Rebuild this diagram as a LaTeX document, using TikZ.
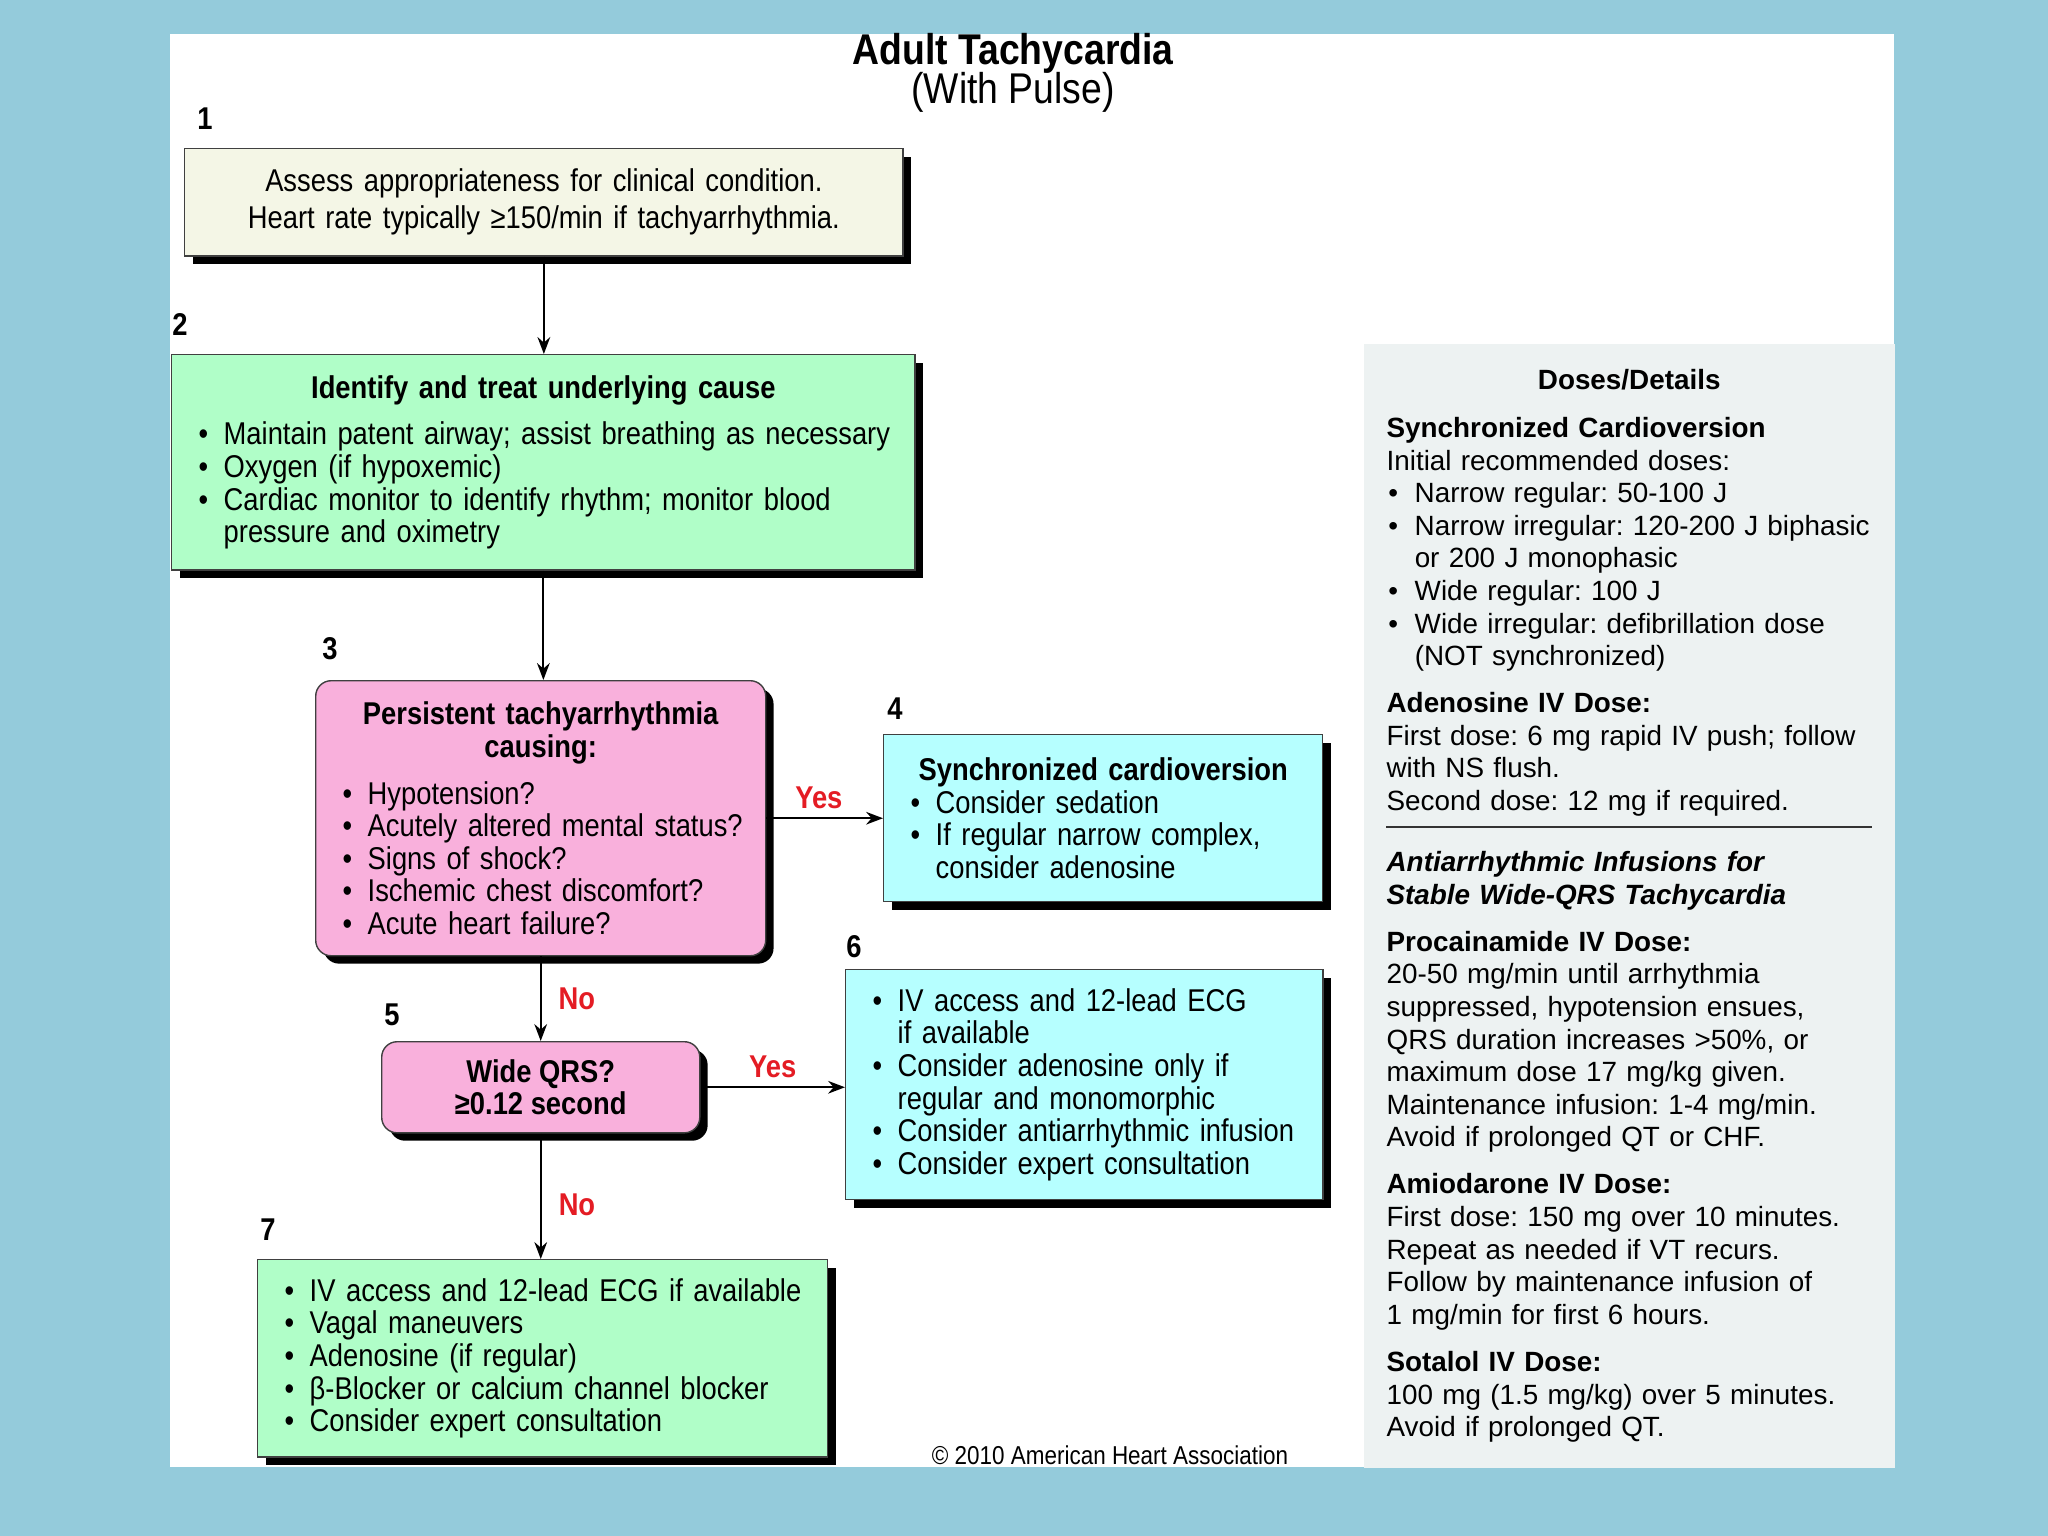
\documentclass[tikz,border=0pt]{standalone}
\usepackage{fontspec}
\setmainfont{Liberation Sans}
\newfontfamily\cf[FakeStretch=0.868]{Liberation Sans}
\usetikzlibrary{arrows.meta,shadows}
\definecolor{bgblue}{RGB}{148,203,219}
\definecolor{panelgray}{RGB}{237,242,242}
\definecolor{creamfill}{RGB}{244,246,230}
\definecolor{greenfill}{RGB}{176,254,200}
\definecolor{pinkfill}{RGB}{249,176,220}
\definecolor{cyanfill}{RGB}{182,255,255}
\definecolor{lblred}{RGB}{228,28,36}
\newcommand{\myfb}[1]{\mbox{\makebox[8.9pt][l]{\textbullet}#1}}
\newcommand{\myind}[1]{\mbox{\hspace*{8.9pt}#1}}
\newcommand{\mydb}[1]{\mbox{\makebox[10pt][l]{\hspace{0.6pt}\textbullet}#1}}
\newcommand{\mydi}[1]{\mbox{\hspace*{10pt}#1}}
\frenchspacing
\begin{document}
\begin{tikzpicture}[x=0.0125cm,y=-0.0125cm,
  box/.style={draw=black!75, line width=0.5pt,
    drop shadow={shadow xshift=2.8pt,shadow yshift=-2.8pt,fill=black,opacity=1},
    inner xsep=9.6pt, inner ysep=2pt, anchor=north west,
    font=\cf\fontsize{11.2}{11.6}\selectfont, align=left},
  rbox/.style={box, rounded corners=5.5pt},
  arr/.style={draw=black, line width=0.8pt, -{Stealth[length=6pt,width=4.5pt]}},
  lbl/.style={text=lblred, font=\cf\bfseries\fontsize{11.2}{12}\selectfont, inner sep=2pt},
  num/.style={font=\cf\bfseries\fontsize{11.2}{12}\selectfont, inner sep=0pt},
  dpanel/.style={fill=panelgray, inner xsep=8.2pt, inner ysep=2pt, anchor=north west,
    font=\fontsize{9.9}{11.6}\selectfont, align=left}
]
\useasboundingbox (0,0) rectangle (2048,1536);
\fill[bgblue] (0,0) rectangle (2048,1536);
\fill[white] (170,34) rectangle (1894,1467);

% Doses panel
\node[dpanel, minimum width=188.9pt, minimum height=399.8pt, text width=172.5pt] (doses) at (1363,343) {%
\makebox[\linewidth]{\bfseries Doses/Details}\\[5.5pt]
{\bfseries Synchronized Cardioversion}\\
Initial recommended doses:\\
\mydb{Narrow regular: 50-100 J}\\
\mydb{Narrow irregular: 120-200 J biphasic}\\
\mydi{or 200 J monophasic}\\
\mydb{Wide regular: 100 J}\\
\mydb{Wide irregular: defibrillation dose}\\
\mydi{(NOT synchronized)}\\[5.1pt]
{\bfseries Adenosine IV Dose:}\\
\mbox{First dose: 6 mg rapid IV push; follow}\\
with NS flush.\\
Second dose: 12 mg if required.\\[10.1pt]
{\bfseries\itshape Antiarrhythmic Infusions for}\\
{\bfseries\itshape Stable Wide-QRS Tachycardia}\\[5.1pt]
{\bfseries Procainamide IV Dose:}\\
20-50 mg/min until arrhythmia\\
suppressed, hypotension ensues,\\
\mbox{QRS duration increases >50\%, or}\\
maximum dose 17 mg/kg given.\\
\mbox{Maintenance infusion: 1-4 mg/min.}\\
Avoid if prolonged QT or CHF.\\[5.1pt]
{\bfseries Amiodarone IV Dose:}\\
\mbox{First dose: 150 mg over 10 minutes.}\\
Repeat as needed if VT recurs.\\
\mbox{Follow by maintenance infusion of}\\
1 mg/min for first 6 hours.\\[5.1pt]
{\bfseries Sotalol IV Dose:}\\
\mbox{100 mg (1.5 mg/kg) over 5 minutes.}\\
Avoid if prolonged QT.};
\coordinate (rl) at (1386,827);
\coordinate (rr) at (1872,827);
\draw[line width=0.9pt, black!80] (rl) -- (rr);

% Title
\node[align=center, inner sep=0pt, font=\cf\fontsize{15.3}{13.9}\selectfont] (title) at (1013,73)
  {{\bfseries Adult Tachycardia}\\[-1.5pt] (With Pulse)};

% Step numbers
\node[num] (n1) at (205,119) {1};
\node[num] (n2) at (180,325) {2};
\node[num] (n3) at (330,649) {3};
\node[num] (n4) at (895,709) {4};
\node[num] (n5) at (392,1015) {5};
\node[num] (n6) at (854,947) {6};
\node[num] (n7) at (268,1230) {7};

% Boxes
\node[box, fill=creamfill, text width=236.2pt, minimum height=38.1pt, align=center] (b1) at (184,148)
  {Assess appropriateness for clinical condition.\\[1.6pt]
   Heart rate typically ≥150/min if tachyarrhythmia.};

\node[box, fill=greenfill, text width=245.1pt, minimum height=76.5pt] (b2) at (171,354) {%
\makebox[\linewidth]{\bfseries Identify and treat underlying cause}\\[5.1pt]
\myfb{Maintain patent airway; assist breathing as necessary}\\
\myfb{Oxygen (if hypoxemic)}\\
\myfb{Cardiac monitor to identify rhythm; monitor blood}\\
\myind{pressure and oximetry}};

\node[rbox, fill=pinkfill, text width=140.8pt, minimum height=97.8pt] (b3) at (315,680) {%
\makebox[\linewidth]{\bfseries Persistent tachyarrhythmia}\\
\makebox[\linewidth]{\bfseries causing:}\\[5.1pt]
\myfb{Hypotension?}\\
\myfb{Acutely altered mental status?}\\
\myfb{Signs of shock?}\\
\myfb{Ischemic chest discomfort?}\\
\myfb{Acute heart failure?}};

\node[box, fill=cyanfill, text width=136.9pt, minimum height=59.4pt] (b4) at (883,734) {%
\makebox[\linewidth]{\bfseries Synchronized cardioversion}\\
\myfb{Consider sedation}\\
\myfb{If regular narrow complex,}\\
\myind{consider adenosine}};

\node[rbox, fill=pinkfill, minimum width=113.1pt, minimum height=32.4pt, align=center,
  font=\cf\bfseries\fontsize{11.2}{11.2}\selectfont] (b5) at (381,1041)
  {Wide QRS?\\ ≥0.12 second};

\node[box, fill=cyanfill, text width=150.5pt, minimum height=81.8pt] (b6) at (845,969) {%
\myfb{IV access and 12-lead ECG}\\
\myind{if available}\\
\myfb{Consider adenosine only if}\\
\myind{regular and monomorphic}\\
\myfb{Consider antiarrhythmic infusion}\\
\myfb{Consider expert consultation}};

\node[box, fill=greenfill, text width=183.5pt, minimum height=70.1pt] (b7) at (257,1259) {%
\myfb{IV access and 12-lead ECG if available}\\
\myfb{Vagal maneuvers}\\
\myfb{Adenosine (if regular)}\\
\myfb{β-Blocker or calcium channel blocker}\\
\myfb{Consider expert consultation}};

% Connectors
\draw[arr] (b1.south) -- (b1.south |- b2.north);
\draw[arr] (b2.south) -- (b2.south |- b3.north);
\draw[arr] (b3.south) -- node[lbl, right=4pt, pos=0.5] (no1) {No} (b3.south |- b5.north);
\draw[arr] (b5.south) -- node[lbl, right=4pt, pos=0.57] (no2) {No} (b5.south |- b7.north);
\draw[arr] (b3.east) -- node[lbl, above=1pt, pos=0.45] (yes1) {Yes} (b3.east -| b4.west);
\draw[arr] (b5.east) -- node[lbl, above=1pt, pos=0.5] (yes2) {Yes} (b5.east -| b6.west);

% Copyright
\node[font=\cf\fontsize{9.2}{10}\selectfont] (copy) at (1110,1455) {© 2010 American Heart Association};
\end{tikzpicture}
\end{document}
